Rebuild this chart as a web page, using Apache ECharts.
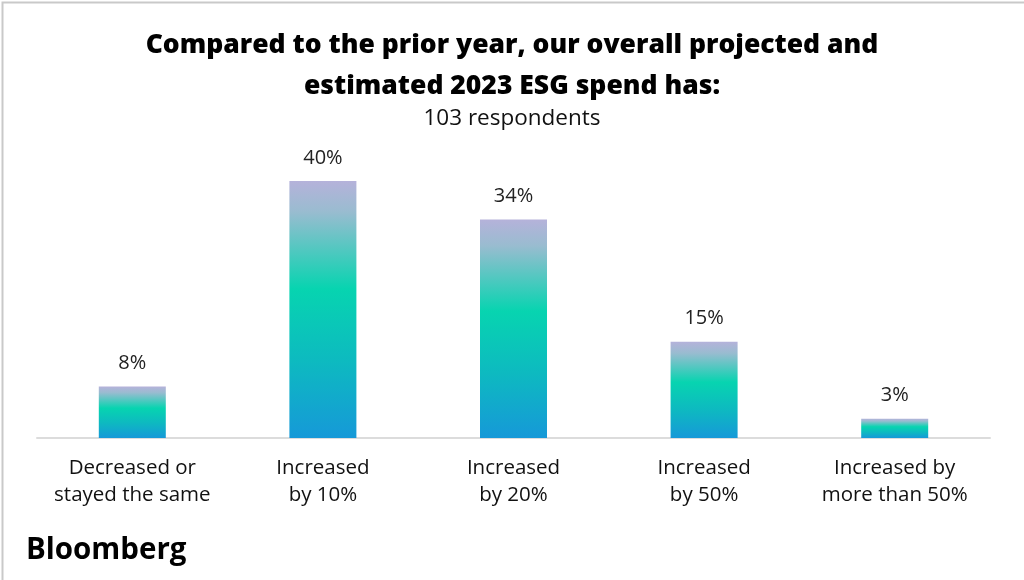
<!DOCTYPE html>
<html>
<head>
<meta charset="utf-8">
<script src="https://cdn.jsdelivr.net/npm/echarts@6/dist/echarts.min.js"></script>
<style>
html,body{margin:0;padding:0;background:#fff;}
#chart{width:1024px;height:580px;}
</style>
</head>
<body>
<div id="chart"></div>
<script>
const categories = ["Decreased or\nstayed the same", "Increased\nby 10%", "Increased\nby 20%", "Increased\nby 50%", "Increased by\nmore than 50%"];
const values = [8, 40, 34, 15, 3];
const titleLines = "Compared to the prior year, our overall projected and\nestimated 2023 ESG spend has:";
const subtitle = "103 respondents";
const brand = "Bloomberg";

const FONT = "'Open Sans', 'Noto Sans', sans-serif";
const chart = echarts.init(document.getElementById('chart'));
chart.setOption({
  animation: false,
  backgroundColor: '#ffffff',
  title: {
    text: titleLines,
    subtext: subtitle,
    left: 'center',
    top: 20,
    itemGap: 0,
    textStyle: {fontFamily: FONT, fontWeight: 800, fontSize: 26.5, color: '#000', lineHeight: 41},
    subtextStyle: {fontFamily: FONT, fontWeight: 'normal', fontSize: 22.5, color: '#111'}
  },
  graphic: [
    {type: 'rect', left: 0, top: 0, shape: {width: 1023, height: 579}, style: {fill: 'none', stroke: '#c9c9c9', lineWidth: 2}, silent: true, z: 100},
    {type: 'text', left: 26, top: 536, style: {text: brand, fontFamily: FONT, fontWeight: 'bold', fontSize: 29.5, fill: '#000'}}
  ],
  grid: {left: 37, right: 34, top: 181, bottom: 142, containLabel: false},
  xAxis: {
    type: 'category',
    data: categories,
    axisLine: {lineStyle: {color: '#dcdcdc', width: 2}},
    axisTick: {show: false},
    axisLabel: {fontFamily: FONT, fontSize: 20.5, color: '#111', lineHeight: 27, margin: 17, interval: 0}
  },
  yAxis: {
    type: 'value', min: 0, max: 40,
    show: false, splitLine: {show: false}
  },
  series: [{
    type: 'bar',
    data: values,
    barWidth: 67,
    itemStyle: {
      color: new echarts.graphic.LinearGradient(0, 0, 0, 1, [
        {offset: 0, color: '#b5b2da'},
        {offset: 0.12, color: '#99bcd0'},
        {offset: 0.42, color: '#07d4b0'},
        {offset: 0.7, color: '#0dbac0'},
        {offset: 1, color: '#1699d8'}
      ])
    },
    label: {
      show: true, position: 'top', distance: 13,
      formatter: '{c}%',
      fontFamily: FONT, fontSize: 20, color: '#222'
    }
  }]
});
</script>
</body>
</html>
